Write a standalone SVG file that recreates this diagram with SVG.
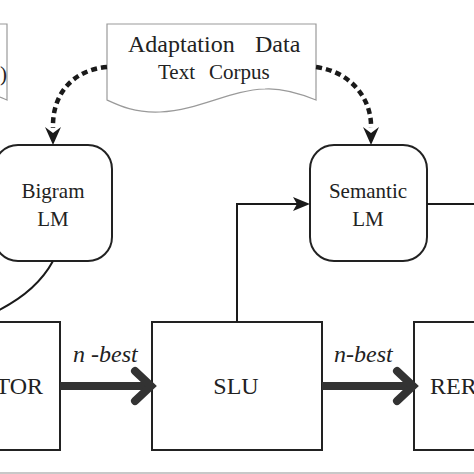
<svg xmlns="http://www.w3.org/2000/svg" width="474" height="474" viewBox="0 0 474 474">
<style>
.doc{fill:#fff;stroke:#9a9a9a;stroke-width:1.2}
.box{fill:#fff;stroke:#222;stroke-width:2}
.t{font-family:"Liberation Serif","Times New Roman",serif;fill:#222}
.it{font-family:"Liberation Serif","Times New Roman",serif;font-style:italic;fill:#222;font-size:24px}
.dash{fill:none;stroke:#1a1a1a;stroke-width:4.5;stroke-dasharray:6 4}
.ln{fill:none;stroke:#1a1a1a;stroke-width:2}
.thick{fill:none;stroke:#333;stroke-width:8}
.head{fill:#1a1a1a}
</style>
<rect x="0" y="0" width="474" height="474" fill="#fff"/>
<g id="left-doc">
<path class="doc" d="M-20,24 L7,24 L7,100 C2,98 -2,96 -10,94"/>
<text class="t" x="0" y="81" font-size="21">)</text>
</g>
<g id="adaptation-data">
<path class="doc" d="M107,24 L316,24 L316,100 C296,92 281,88 265,89 C230,90 200,110 160,112 C135,113 120,106 107,100 Z"/>
<text class="t" x="128" y="52" font-size="24">Adaptation</text>
<text class="t" x="255" y="52" font-size="24">Data</text>
<text class="t" x="158" y="79" font-size="21">Text</text>
<text class="t" x="209" y="79" font-size="21">Corpus</text>
</g>
<g id="bigram-lm">
<rect class="box" x="-6" y="145" width="118" height="116" rx="24"/>
<text class="t" x="53" y="198" font-size="21" text-anchor="middle">Bigram</text>
<text class="t" x="53" y="226" font-size="21" text-anchor="middle">LM</text>
</g>
<g id="semantic-lm">
<rect class="box" x="310" y="145" width="117" height="116" rx="24"/>
<text class="t" x="368" y="198" font-size="21" text-anchor="middle">Semantic</text>
<text class="t" x="368" y="226" font-size="21" text-anchor="middle">LM</text>
</g>
<g id="generator">
<rect class="box" x="-10" y="322" width="70" height="128"/>
<text class="t" x="43" y="394" font-size="24" text-anchor="end">TOR</text>
</g>
<g id="slu">
<rect class="box" x="152" y="322" width="170" height="128"/>
<text class="t" x="236" y="394" font-size="24" text-anchor="middle">SLU</text>
</g>
<g id="reranker">
<rect class="box" x="414" y="322" width="80" height="128"/>
<text class="t" x="430" y="394" font-size="24">RER</text>
</g>
<g id="connectors">
<path class="dash" d="M107,67 C72,70 52,95 53,128"/>
<polygon class="head" points="53,145 45,127 53,133 61,127"/>
<path class="dash" d="M316,67 C352,72 372,100 371,128"/>
<polygon class="head" points="371,145 363,127 371,133 379,127"/>
<path class="ln" d="M237,322 V204 H300"/>
<polygon class="head" points="310,204 293,197 297,204 293,211"/>
<path class="ln" d="M427,204 H474"/>
<path class="ln" d="M53,261 C40,285 20,300 -5,312"/>
<path class="thick" d="M60,386 H148"/>
<polyline class="thick" points="135,371 151,386 135,401" stroke-linecap="round"/>
<path class="thick" d="M322,386 H410"/>
<polyline class="thick" points="397,371 413,386 397,401" stroke-linecap="round"/>
<text class="it" x="73" y="362">n -best</text>
<text class="it" x="334" y="362">n-best</text>
</g>
<rect x="0" y="472" width="474" height="2" fill="#c8c8c8"/>
</svg>
